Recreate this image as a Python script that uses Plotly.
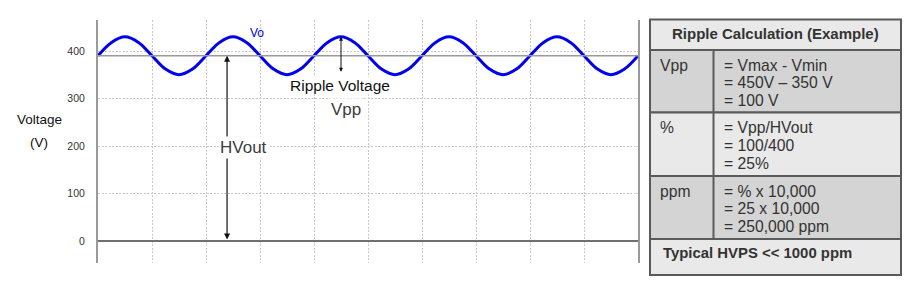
import plotly.graph_objects as go

# ---------------- data ----------------
time_div = [0, 0.25, 0.5, 0.75, 1, 1.25, 1.5, 1.75, 2, 2.25, 2.5, 2.75, 3, 3.25, 3.5, 3.75,
            4, 4.25, 4.5, 4.75, 5, 5.25, 5.5, 5.75, 6, 6.25, 6.5, 6.75, 7, 7.25, 7.5, 7.75,
            8, 8.25, 8.5, 8.75, 9, 9.25, 9.5, 9.75, 10]
vo = [390, 418, 430, 418, 390, 362, 350, 362, 390, 418, 430, 418, 390, 362, 350, 362,
      390, 418, 430, 418, 390, 362, 350, 362, 390, 418, 430, 418, 390, 362, 350, 362,
      390, 418, 430, 418, 390, 362, 350, 362, 390]
HVOUT = 390
VMAX_MARK = 430
VMIN_MARK = 353
y_ticks = [0, 100, 200, 300, 400]
x_grid = [0, 1, 2, 3, 4, 5, 6, 7, 8, 9, 10]

table_header = "Ripple Calculation (Example)"
row_labels = ["Vpp", "%", "ppm"]
row_lines = [
    ["= Vmax - Vmin", "= 450V \u2013 350 V", "= 100 V"],
    ["= Vpp/HVout", "= 100/400", "= 25%"],
    ["= % x 10,000", "= 25 x 10,000", "= 250,000 ppm"],
]
table_footer = "Typical HVPS &lt;&lt; 1000 ppm"

# ---------------- layout helpers ----------------
W, H = 917, 287
L, R, T, B = 98, 638, 20, 263
FONT = "Liberation Sans, Arial, Helvetica, sans-serif"


def px(xp):
    return (xp - L) / (R - L)


def py(yp):
    return (B - yp) / (B - T)


fig = go.Figure()
fig.add_trace(go.Scatter(x=time_div, y=vo, mode="lines",
                         line=dict(color="#0000ee", width=3, shape="spline", smoothing=1.0),
                         hoverinfo="skip", showlegend=False))

shapes = []
annotations = []


def note(**kw):
    kw.setdefault("xanchor", "center")
    kw.setdefault("yanchor", "middle")
    kw.setdefault("showarrow", False)
    annotations.append(kw)


# HVout level line
shapes.append(dict(type="line", xref="x", yref="y", x0=0, x1=10, y0=HVOUT, y1=HVOUT,
                   line=dict(color="#9a9a9a", width=1.5), layer="above"))

# HVout double arrow
annotations.append(dict(x=2.39, y=HVOUT, ax=2.39, ay=0, xref="x", yref="y", axref="x", ayref="y",
                        text="", showarrow=True, arrowhead=2, arrowside="end+start",
                        arrowsize=1, arrowwidth=1.2, arrowcolor="#111", standoff=0, startstandoff=0))
note(x=2.70, y=196, xref="x", yref="y", text="HVout",
     font=dict(family=FONT, size=17, color="#3c3c3c"), bgcolor="white", borderpad=1)

# Ripple arrow
annotations.append(dict(x=4.5, y=VMAX_MARK, ax=4.5, ay=VMIN_MARK, xref="x", yref="y", axref="x", ayref="y",
                        text="", showarrow=True, arrowhead=2, arrowside="end+start",
                        arrowsize=0.8, arrowwidth=1.0, arrowcolor="#111", standoff=0, startstandoff=0))
note(x=4.48, y=327, xref="x", yref="y", text="Ripple Voltage",
     font=dict(family=FONT, size=15.5, color="#111"), bgcolor="white", borderpad=0)
note(x=4.6, y=276, xref="x", yref="y", text="Vpp",
     font=dict(family=FONT, size=17, color="#3c3c3c"), bgcolor="white", borderpad=1)

# Vo label
note(x=2.94, y=438, xref="x", yref="y", text="Vo",
     font=dict(family=FONT, size=12, color="#0000ee"))

# Y axis title
note(x=px(39), y=py(119), xref="paper", yref="paper", text="Voltage",
     font=dict(family=FONT, size=13.5, color="#111"))
note(x=px(39), y=py(142), xref="paper", yref="paper", text="(V)",
     font=dict(family=FONT, size=13.5, color="#111"))

# ---------------- table ----------------
TX0, TXC, TX1 = 650, 713.5, 901
row_edges = [19.5, 50, 112.5, 176, 239, 275]
fills = ["#e9e9e9", "#d4d4d4", "#e9e9e9", "#d4d4d4", "#e9e9e9"]
for i, f in enumerate(fills):
    shapes.append(dict(type="rect", xref="paper", yref="paper",
                       x0=px(TX0), x1=px(TX1), y0=py(row_edges[i + 1]), y1=py(row_edges[i]),
                       fillcolor=f, line=dict(color="#5a5a5a", width=2), layer="above"))
shapes.append(dict(type="line", xref="paper", yref="paper", x0=px(TXC), x1=px(TXC),
                   y0=py(row_edges[4]), y1=py(row_edges[1]), line=dict(color="#5a5a5a", width=2)))

tfont = dict(family=FONT, size=15.7, color="#333")
note(x=px((TX0 + TX1) / 2), y=py(34), xref="paper", yref="paper", text="<b>" + table_header + "</b>",
     font=dict(family=FONT, size=15, color="#333"))
for r, (lab, lines) in enumerate(zip(row_labels, row_lines)):
    top = row_edges[r + 1]
    note(x=px(658.5), y=py(top + 15), xref="paper", yref="paper", text=lab,
         xanchor="left", font=tfont, borderpad=0)
    for k, ln in enumerate(lines):
        note(x=px(722.5), y=py(top + 15 + k * 17.8), xref="paper", yref="paper", text=ln,
             xanchor="left", font=tfont, borderpad=0)
note(x=px(661), y=py(253), xref="paper", yref="paper", text="<b>" + table_footer + "</b>",
     xanchor="left", font=dict(family=FONT, size=14.9, color="#333"))

fig.update_layout(
    width=W, height=H,
    margin=dict(l=L, r=W - R, t=T, b=H - B, pad=0),
    paper_bgcolor="white", plot_bgcolor="white",
    showlegend=False,
    shapes=shapes, annotations=annotations,
    xaxis=dict(range=[0, 10], tickvals=x_grid, showticklabels=False, ticks="",
               showgrid=True, gridcolor="#c8c8c8", griddash="2px,1.5px", gridwidth=1,
               zeroline=False, showline=False, fixedrange=True),
    yaxis=dict(range=[-46.3, 465.3], tickvals=y_ticks, ticktext=[str(v) for v in y_ticks],
               ticks="outside", ticklen=9, tickcolor="rgba(0,0,0,0)",
               tickfont=dict(family=FONT, size=10.5, color="#333"),
               showgrid=True, gridcolor="#c8c8c8", griddash="2px,1.5px", gridwidth=1,
               zeroline=True, zerolinecolor="#707070", zerolinewidth=1.5,
               showline=True, mirror=True, linecolor="#9a9a9a", linewidth=2, fixedrange=True),
)

fig.write_html("out.html")
